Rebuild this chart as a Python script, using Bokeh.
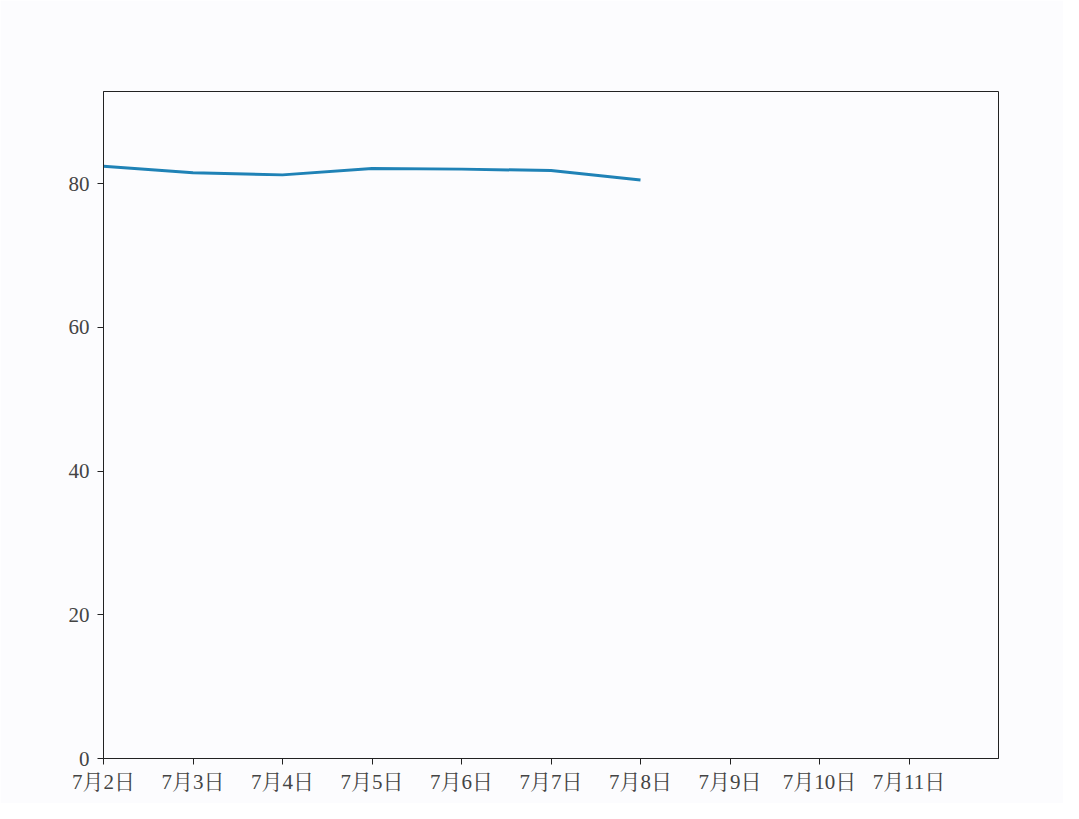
from bokeh.plotting import figure
from bokeh.models import Range1d, FixedTicker
from bokeh.embed import file_html
from bokeh.resources import INLINE

# Data
categories = ["7月2日", "7月3日", "7月4日", "7月5日", "7月6日", "7月7日", "7月8日", "7月9日", "7月10日", "7月11日"]
values = [82.4, 81.5, 81.2, 82.1, 82.0, 81.8, 80.5]
y_ticks = [0, 20, 40, 60, 80]

xs = list(range(len(values)))

FONT = "'Liberation Serif', 'Noto Serif CJK SC', 'Noto Sans CJK SC', serif"
BG = "#fcfcfe"

p = figure(width=1063, height=803, output_backend="svg", toolbar_location=None,
           x_range=Range1d(0, 10), y_range=Range1d(0, 92.8),
           min_border_left=103, min_border_right=65, min_border_top=91, min_border_bottom=45)

p.background_fill_color = BG
p.border_fill_color = BG
p.outline_line_color = "#222222"
p.outline_line_width = 1
p.xgrid.visible = False
p.ygrid.visible = False

p.line(xs, values, line_color="#1f82b6", line_width=3)

p.xaxis.ticker = FixedTicker(ticks=list(range(len(categories))))
p.xaxis.major_label_overrides = {i: c for i, c in enumerate(categories)}
p.yaxis.ticker = FixedTicker(ticks=y_ticks)

for ax in (p.xaxis, p.yaxis):
    ax.axis_line_color = "#222222"
    ax.major_tick_line_color = "#222222"
    ax.major_tick_in = 0
    ax.major_tick_out = 6
    ax.minor_tick_line_color = None
    ax.major_label_text_font = FONT
    ax.major_label_text_font_size = "21px"
    ax.major_label_text_color = "#444444"

p.xaxis.major_label_standoff = 5
p.yaxis.major_label_standoff = 8

open("out.html", "w").write(file_html(p, INLINE))
